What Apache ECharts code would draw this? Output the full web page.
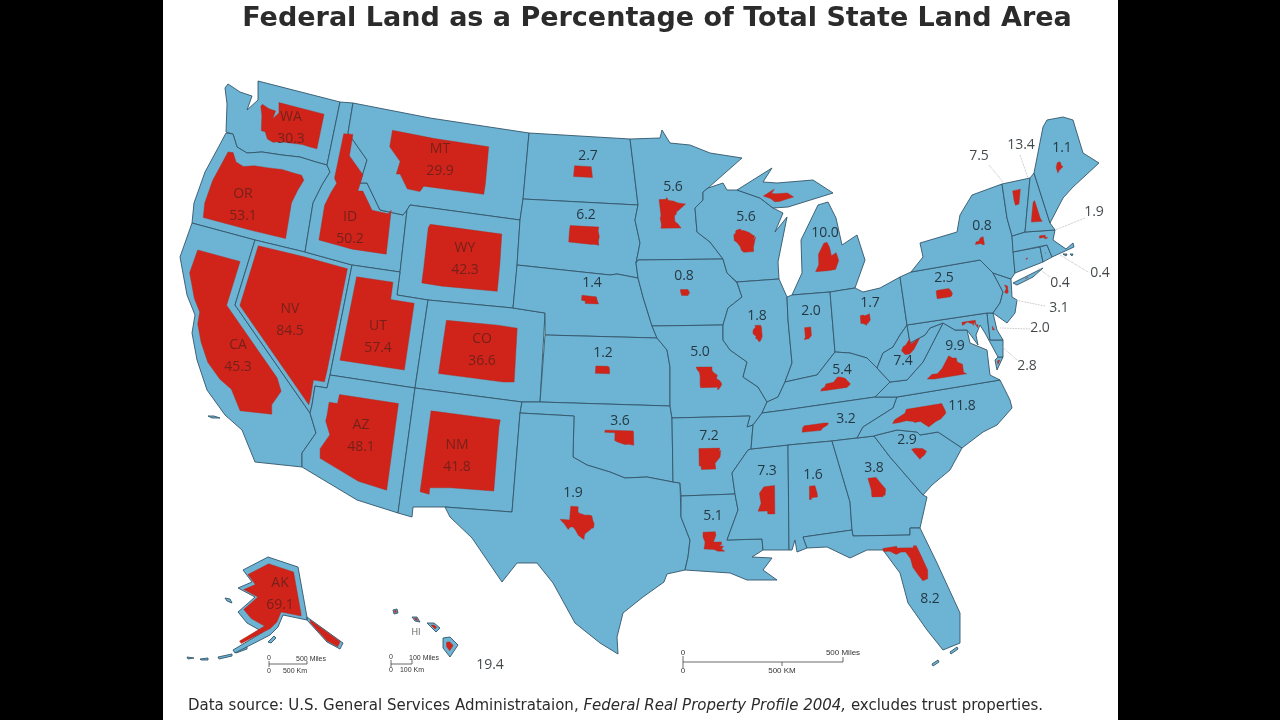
<!DOCTYPE html>
<html>
<head>
<meta charset="utf-8">
<title>Federal Land as a Percentage of Total State Land Area</title>
<style>
html, body { margin: 0; padding: 0; background: linear-gradient(to right, #000 163px, #fff 163px, #fff 1118px, #000 1118px); }
#main { width: 1280px; height: 720px; }
</style>
<script src="https://cdn.jsdelivr.net/npm/echarts@6/dist/echarts.min.js"></script>
</head>
<body>
<div id="main"></div>
<script>
// values
var states = ['WA','OR','CA','NV','ID','MT','WY','UT','CO','AZ','NM','ND','SD','NE','KS','OK','TX','MN','IA','MO','AR','LA','WI','IL','MS','MI','IN','OH','KY','TN','AL','GA','FL','SC','NC','VA','WV','MD','DE','PA','NJ','NY','CT','RI','MA','VT','NH','ME','AK','HI'];
var federalPct = [30.3,53.1,45.3,84.5,50.2,29.9,42.3,57.4,36.6,48.1,41.8,2.7,6.2,1.4,1.2,3.6,1.9,5.6,0.8,5.0,7.2,5.1,5.6,1.8,7.3,10.0,2.0,1.7,5.4,3.2,1.6,3.8,8.2,2.9,11.8,9.9,7.4,2.8,2.0,2.5,3.1,0.8,0.4,0.4,1.9,7.5,13.4,1.1,69.1,19.4];
var insideLabel = ['WA','OR','CA','NV','ID','MT','WY','UT','CO','AZ','NM','AK'];

// state outlines (no basemap is available offline), traced in page pixels
var outlines = {
  WA: [[[225,88],[228,84],[240,92],[252,96],[247,110],[258,100],[258,81],[340,102],[327,165],[316,162],[300,157],[282,155],[262,152],[247,153],[237,147],[233,134],[226,132],[227,104]]],
  OR: [[[226,133],[233,134],[237,147],[247,153],[262,152],[282,155],[300,157],[316,162],[327,165],[330,172],[322,185],[313,203],[305,252],[255,240],[192,223],[194,203],[205,172],[218,148]]],
  CA: [[[192,223],[255,240],[235,305],[310,413],[316,433],[302,453],[302,467],[255,462],[242,430],[225,415],[207,390],[197,360],[192,333],[195,315],[187,295],[180,257]]],
  NV: [[[255,240],[305,252],[352,265],[330,375],[327,388],[315,386],[312,405],[310,413],[235,305]]],
  ID: [[[340,102],[353,103],[348,133],[367,160],[360,183],[367,183],[380,210],[403,215],[407,210],[400,272],[352,265],[305,252],[313,203],[322,185],[330,172],[327,165]]],
  MT: [[[353,103],[430,118],[529,133],[523,200],[520,220],[410,205],[407,210],[403,215],[380,210],[367,183],[360,183],[367,160],[348,133]]],
  WY: [[[410,205],[520,220],[517,267],[513,308],[428,300],[397,295],[400,272],[407,210]]],
  UT: [[[352,265],[400,272],[397,295],[428,300],[415,388],[330,375]]],
  CO: [[[428,300],[513,308],[545,313],[540,402],[522,402],[415,388]]],
  AZ: [[[330,375],[415,388],[398,513],[357,500],[302,467],[302,453],[316,433],[310,413],[312,405],[315,386],[327,388]]],
  NM: [[[415,388],[522,402],[520,413],[512,512],[445,507],[413,507],[412,517],[398,513]]],
  ND: [[[529,133],[630,139],[633,163],[638,205],[523,199]]],
  SD: [[[523,199],[638,205],[635,220],[640,243],[636,263],[638,278],[617,274],[610,275],[517,265],[520,220]]],
  NE: [[[517,265],[610,275],[617,274],[638,278],[643,297],[652,326],[657,338],[545,335],[545,313],[513,308]]],
  KS: [[[545,335],[657,338],[667,350],[670,367],[670,406],[540,402]]],
  OK: [[[522,402],[540,402],[670,406],[672,418],[673,482],[647,477],[625,478],[610,472],[587,465],[573,457],[574,416],[520,413]]],
  TX: [[[520,413],[574,416],[573,457],[587,465],[610,472],[625,478],[647,477],[673,482],[680,483],[681,517],[690,540],[688,557],[685,570],[667,574],[664,582],[643,597],[623,613],[617,637],[618,654],[600,643],[575,623],[553,583],[537,563],[517,563],[502,582],[472,538],[450,517],[445,507],[512,512]]],
  MN: [[[630,139],[660,138],[662,130],[670,143],[690,145],[710,153],[742,158],[708,188],[703,192],[703,200],[695,208],[697,232],[710,242],[723,259],[638,260],[636,263],[640,243],[635,220],[638,205],[633,163]]],
  IA: [[[638,260],[723,259],[727,273],[737,283],[742,297],[728,308],[723,325],[652,326],[643,297],[638,278],[636,263]]],
  MO: [[[652,326],[723,325],[723,340],[730,350],[747,362],[743,377],[758,387],[767,402],[762,413],[753,425],[747,427],[750,416],[672,418],[670,406],[670,367],[667,350],[657,338]]],
  AR: [[[672,418],[750,416],[747,427],[753,425],[751,449],[748,450],[732,473],[735,494],[681,496],[680,483],[673,482]]],
  LA: [[[681,496],[735,494],[738,510],[727,540],[762,539],[763,550],[752,557],[772,558],[763,570],[777,580],[747,580],[730,573],[685,570],[688,557],[690,540],[681,517]]],
  WI: [[[708,188],[723,183],[727,190],[737,190],[760,198],[773,208],[783,213],[775,232],[787,217],[778,262],[779,279],[737,282],[727,273],[723,259],[710,242],[697,232],[695,208],[703,200],[703,192]]],
  IL: [[[737,282],[779,279],[787,297],[788,320],[792,363],[785,382],[778,397],[767,402],[758,387],[743,377],[747,362],[730,350],[723,340],[723,325],[728,308],[742,297]]],
  MS: [[[751,449],[788,445],[789,550],[763,550],[762,539],[727,540],[738,510],[735,494],[732,473],[748,450]]],
  MI: [[[737,190],[772,168],[763,182],[777,183],[813,180],[833,193],[817,198],[788,207],[773,208],[760,198]],
       [[792,295],[802,273],[801,240],[818,205],[828,202],[836,218],[842,245],[857,235],[865,260],[855,288],[830,292]]],
  IN: [[[787,297],[792,295],[830,292],[835,352],[817,375],[803,378],[785,382],[792,363],[788,320]]],
  OH: [[[830,292],[855,288],[863,292],[880,288],[900,277],[907,325],[900,335],[893,347],[883,353],[877,368],[867,358],[850,353],[835,352]]],
  KY: [[[762,413],[767,402],[778,397],[785,382],[803,378],[817,375],[835,352],[850,353],[867,358],[877,368],[890,382],[875,397],[785,410]]],
  TN: [[[762,413],[785,410],[875,397],[897,397],[893,408],[863,427],[857,438],[832,441],[788,445],[751,449],[753,425]]],
  AL: [[[788,445],[832,441],[850,502],[852,530],[803,537],[807,548],[797,552],[795,540],[792,550],[789,550]]],
  GA: [[[832,441],[857,438],[874,436],[890,457],[923,495],[927,497],[920,528],[910,528],[910,535],[853,536],[852,530],[850,502]]],
  FL: [[[803,537],[852,530],[853,536],[910,535],[910,528],[920,528],[937,563],[960,613],[960,643],[943,650],[927,630],[908,603],[900,573],[883,550],[867,550],[850,558],[827,547],[807,548]]],
  SC: [[[874,436],[877,435],[897,430],[917,432],[920,435],[938,432],[962,448],[950,470],[932,485],[923,495],[890,457]]],
  NC: [[[897,397],[1000,380],[1010,400],[1012,408],[997,425],[983,432],[962,448],[938,432],[920,435],[917,432],[897,430],[877,435],[874,436],[857,438],[863,427],[893,408]]],
  VA: [[[875,397],[890,382],[907,380],[923,362],[943,323],[955,330],[967,330],[970,343],[987,350],[990,375],[1000,380],[897,397]],
       [[998,357],[1003,357],[997,370],[995,360]]],
  WV: [[[907,325],[910,343],[925,335],[930,328],[943,323],[923,362],[907,380],[890,382],[877,368],[883,353],[893,347],[900,335]]],
  MD: [[[907,325],[987,313],[990,340],[1003,340],[1003,357],[998,357],[985,333],[980,325],[976,335],[978,345],[967,330],[955,330],[943,323],[930,328],[925,335],[910,343]]],
  DE: [[[987,313],[993,313],[997,330],[1003,340],[990,340]]],
  PA: [[[900,277],[911,272],[980,260],[993,273],[1003,292],[1000,303],[993,313],[987,313],[907,325]]],
  NJ: [[[993,273],[1011,279],[1012,297],[1017,300],[1015,313],[1007,323],[993,313],[1000,303],[1003,292]]],
  NY: [[[911,272],[923,257],[920,243],[957,232],[960,215],[972,195],[1002,184],[1007,218],[1012,236],[1015,273],[1011,279],[993,273],[980,260]],
       [[1013,283],[1043,268],[1033,277],[1017,285]]],
  CT: [[[1013,252],[1040,247],[1043,262],[1015,273]]],
  RI: [[[1040,247],[1047,245],[1052,257],[1043,262]]],
  MA: [[[1012,236],[1025,232],[1055,230],[1053,240],[1066,249],[1073,243],[1074,247],[1063,252],[1052,257],[1047,245],[1013,252]]],
  VT: [[[1002,184],[1030,178],[1025,232],[1012,236],[1007,218]]],
  NH: [[[1030,178],[1034,173],[1050,223],[1055,230],[1025,232]]],
  ME: [[[1034,173],[1043,127],[1047,120],[1063,117],[1073,120],[1083,153],[1099,163],[1073,187],[1063,198],[1050,223]]],
  AK: [[[268,557],[298,567],[307,617],[307,620],[283,615],[278,627],[270,635],[235,653],[233,650],[263,632],[247,623],[238,612],[255,597],[238,588],[252,582],[243,570]],
       [[307,617],[343,643],[340,649],[327,642],[307,620]]],
  HI: [[[443,638],[450,637],[458,645],[450,657],[443,648]],[[427,623],[434,623],[440,628],[436,632]],[[412,617],[417,617],[420,622],[415,621]],[[393,610],[397,609],[398,613],[394,614]]]
};
// small islands that carry no figure of their own
var islands = [
  [[208,416],[214,416],[220,418],[212,418]],[[225,598],[230,599],[232,603],[227,601]],
  [[268,642],[274,636],[276,638],[271,643]],[[187,657],[194,658],[195,659],[188,659]],
  [[200,659],[208,658],[208,660],[201,660]],[[218,657],[232,654],[232,656],[219,659]],
  [[235,651],[247,647],[247,649],[236,653]],[[1063,254],[1067,254],[1066,256]],[[1070,254],[1073,254],[1072,256]],
  [[932,664],[938,660],[939,662],[933,666]],[[950,652],[957,647],[958,649],[951,654]]
];

// the red shape does not sit exactly on the centre of its state, nudge it (px)
var redShift = {
  WA:[10,3],OR:[-7,2],WY:[3,1],CA:[-10,-15],UT:[-2,-4],CO:[-3,0],ND:[3,2],SD:[5,-2],NE:[6,-3],KS:[-3,-1],OK:[5,0],TX:[-3,-6],
  MN:[-4,16],IA:[-2,1],MO:[1,3],AR:[0,5],LA:[-8,3],WI:[3,8],MI:[-6,5],'MI#1':[-1,3],IL:[-3,-2],IN:[-2,-1],OH:[-3,-1],PA:[-6,1],NY:[5,4],
  MS:[5,2],AL:[-3,-1],GA:[-1,-2],FL:[5,-17],SC:[-1,-3],NC:[-23,2],TN:[-4,5],KY:[5,0],VA:[4,3],WV:[3,-8],MD:[12,-6],NJ:[1,-10],MA:[5,-5],VT:[0,-8],NH:[-1,4],ME:[-1,4]
};

// where each figure sits on the page
var labelPos = {
  WA:[291,128],OR:[243,205],ID:[350,228],MT:[440,160],WY:[465,259],NV:[290,320],UT:[378,337],CO:[482,350],CA:[238,356],AZ:[361,436],NM:[457,456],AK:[280,594],
  ND:[588,156],SD:[586,215],NE:[592,283],KS:[603,353],MN:[673,187],WI:[746,217],IA:[684,276],MO:[700,352],IL:[757,316],IN:[811,311],MI:[825,233],OH:[870,303],PA:[944,278],NY:[982,226],
  OK:[620,421],TX:[573,493],AR:[709,436],LA:[713,516],MS:[767,471],AL:[813,475],GA:[874,468],SC:[907,440],TN:[846,419],KY:[842,370],NC:[962,406],WV:[903,361],VA:[955,346],FL:[930,599],
  VT:[979,156],NH:[1021,145],ME:[1062,148],MA:[1094,212],RI:[1100,273],CT:[1060,283],NJ:[1059,308],DE:[1040,328],MD:[1027,366],HI:[490,665]
};
var leaders = [
  [[989,165],[1003,182]],[[1020,155],[1028,178]],[[1085,218],[1055,230]],[[1088,272],[1060,255]],
  [[1050,277],[1038,268]],[[1045,306],[1015,300]],[[1030,329],[1000,328]],[[1017,360],[1000,345]],[[968,344],[985,351]]
];

function toGeo(p) { return [p[0], -p[1]]; }

// area weighted centre of one ring
function centre(ring) {
  var a = 0, cx = 0, cy = 0;
  for (var i = 0; i < ring.length; i++) {
    var p = ring[i], q = ring[(i + 1) % ring.length];
    var f = p[0] * q[1] - q[0] * p[1];
    a += f; cx += (p[0] + q[0]) * f; cy += (p[1] + q[1]) * f;
  }
  return [cx / (3 * a), cy / (3 * a)];
}

// federal share drawn as the same shape with area = pct of the state
function shrink(ring, pct, shift) {
  var c = centre(ring), k = Math.sqrt(pct / 100);
  var d = shift || [0, 0];
  return ring.map(function (p) {
    return [c[0] + d[0] + (p[0] - c[0]) * k, c[1] + d[1] + (p[1] - c[1]) * k];
  });
}

function feature(name, rings) {
  return {
    type: 'Feature',
    properties: { name: name },
    geometry: { type: 'MultiPolygon', coordinates: rings.map(function (r) { return [r.map(toGeo)]; }) }
  };
}

var features = [], regions = [];
features.push(feature('islands', islands));
states.forEach(function (s) { features.push(feature(s, outlines[s])); });
states.forEach(function (s, i) {
  var inner = outlines[s].map(function (r, n) {
    return shrink(r, federalPct[i], redShift[n ? s + '#' + n : s]);
  });
  features.push(feature(s + ' federal', inner));
  regions.push({ name: s + ' federal', itemStyle: { areaColor: '#d0241a', borderColor: '#a82a22', borderWidth: 0.4 } });
});
echarts.registerMap('usa', { type: 'FeatureCollection', features: features });

var labelData = states.map(function (s, i) {
  var txt = federalPct[i].toFixed(1);
  var inside = insideLabel.indexOf(s) >= 0;
  return {
    name: inside ? s + '\n' + txt : txt,
    value: toGeo(labelPos[s]),
    label: inside ? { color: '#5c1f1c', lineHeight: 22 } : {}
  };
});
labelData.push({ name: 'HI', value: toGeo([416, 632]), label: { fontSize: 9, color: '#333' } });

var chart = echarts.init(document.getElementById('main'), null, { renderer: 'canvas' });

function smallText(x, y, t, size) {
  return { type: 'text', x: x, y: y, style: { text: t, fontSize: size || 7, fontFamily: 'Liberation Sans', fill: '#333', align: 'center', verticalAlign: 'middle' } };
}
function rule(x1, y1, x2, y2) {
  return { type: 'line', shape: { x1: x1, y1: y1, x2: x2, y2: y2 }, style: { stroke: '#444', lineWidth: 0.8 } };
}

var option = {
  backgroundColor: 'transparent',
  animation: false,
  title: [
    {
      text: 'Federal Land as a Percentage of Total State Land Area',
      left: 652, top: 0, textAlign: 'center',
      textStyle: { fontFamily: 'DejaVu Sans', fontWeight: 'bold', fontSize: 27, color: '#2b2b2b' }
    },
    {
      text: 'Data source: U.S. General Services Administrataion, {i|Federal Real Property Profile 2004,} excludes trust properties.',
      left: 183, top: 694,
      textStyle: {
        fontFamily: 'DejaVu Sans', fontWeight: 'normal', fontSize: 15, color: '#2b2b2b',
        rich: { i: { fontFamily: 'DejaVu Sans', fontStyle: 'italic', fontSize: 15, color: '#2b2b2b' } }
      }
    }
  ],
  geo: {
    map: 'usa',
    silent: true,
    roam: false,
    aspectScale: 1,
    boundingCoords: [[0, 0], [1280, -720]],
    left: 0, top: 0, width: 1280, height: 720,
    label: { show: false },
    itemStyle: { areaColor: '#6db3d4', borderColor: '#33566a', borderWidth: 0.9 },
    emphasis: { disabled: true },
    regions: regions
  },
  series: [
    {
      type: 'lines',
      coordinateSystem: 'geo',
      silent: true,
      lineStyle: { color: '#ababab', width: 0.8, type: 'dotted', opacity: 1, curveness: 0 },
      data: leaders.map(function (l) { return { coords: l.map(toGeo) }; })
    },
    {
      type: 'scatter',
      coordinateSystem: 'geo',
      silent: true,
      symbolSize: 1,
      itemStyle: { color: 'transparent' },
      label: {
        show: true, position: 'inside', formatter: '{b}',
        fontFamily: 'Open Sans', fontSize: 14, color: '#12181c'
      },
      data: labelData
    }
  ],
  graphic: [
    rule(683, 662, 843, 662), rule(683, 656, 683, 668), rule(843, 657, 843, 662), rule(782, 662, 782, 666),
    smallText(683, 653, '0', 8), smallText(683, 671, '0', 8), smallText(843, 653, '500 Miles', 8), smallText(782, 671, '500 KM', 8),
    rule(269, 664, 307, 664), rule(269, 661, 269, 667), rule(307, 661, 307, 664),
    smallText(269, 658, '0'), smallText(269, 671, '0'), smallText(311, 659, '500 Miles'), smallText(295, 671, '500 Km'),
    rule(391, 664, 412, 664), rule(391, 660, 391, 667), rule(412, 660, 412, 664),
    smallText(391, 657, '0'), smallText(391, 670, '0'), smallText(424, 658, '100 Miles'), smallText(412, 670, '100 Km')
  ]
};
chart.setOption(option);
</script>
</body>
</html>
